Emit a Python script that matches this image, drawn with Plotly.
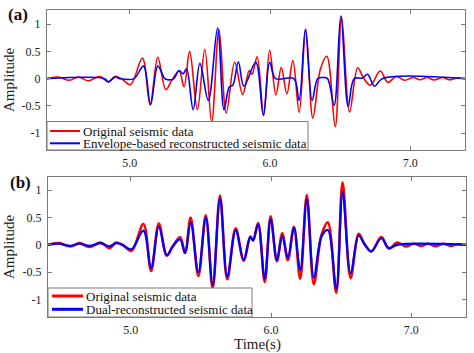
import plotly.graph_objects as go

W, H = 474, 353

# ---------------- data ----------------
orig_t = [4.41, 4.488, 4.57, 4.635, 4.705, 4.786, 4.848, 4.895, 4.94, 5.005, 5.09, 5.145, 5.2, 5.257,
          5.3, 5.352, 5.387, 5.427, 5.482, 5.535, 5.584, 5.636, 5.688, 5.748, 5.805, 5.852, 5.872,
          5.908, 5.955, 5.997, 6.042, 6.08, 6.12, 6.163, 6.208, 6.255, 6.305, 6.36, 6.405, 6.465,
          6.51, 6.567, 6.625, 6.665, 6.715, 6.786, 6.84, 6.9, 6.96, 7.02, 7.07, 7.12, 7.17, 7.23,
          7.28, 7.33, 7.39]
orig_a = [0.0, 0.03, -0.03, 0.03, -0.04, 0.04, -0.06, 0.04, 0.0, -0.11, 0.38, -0.48, 0.39, -0.2,
          -0.03, 0.14, -0.15, 0.5, -0.57, 0.54, -0.8, 0.9, -0.63, 0.3, -0.29, 0.15, 0.08,
          0.4, -0.68, 0.52, -0.3, 0.21, -0.28, 0.33, -0.62, 0.91, -0.72, 0.18, 0.41, -0.88,
          1.14, -0.61, 0.2, 0.02, -0.12, 0.14, -0.07, 0.04, -0.03, 0.02, -0.02, 0.02, -0.025, 0.02,
          -0.02, 0.01, 0.0]

env_t = [4.41, 4.82, 4.848, 4.895, 4.93, 5.03, 5.098, 5.148, 5.2, 5.25, 5.27, 5.31, 5.352, 5.38,
         5.405, 5.452, 5.5, 5.56, 5.626, 5.672, 5.71, 5.735, 5.774, 5.814, 5.898, 5.952, 5.998,
         6.04, 6.17, 6.207, 6.252, 6.3, 6.34, 6.38, 6.41, 6.457, 6.505, 6.557, 6.6, 6.66, 6.695,
         6.745, 6.8, 7.39]
env_a = [0.0, 0.0, -0.06, 0.03, 0.0, 0.0, 0.23, -0.48, 0.23, 0.0, -0.02, -0.01, 0.15, 0.09,
         0.18, -0.57, 0.28, -0.4, 0.93, -0.57, -0.15, -0.12, 0.31, -0.14, 0.3, -0.67, 0.3,
         0.0, 0.0, -0.4, 0.9, -0.4, 0.0, 0.02, 0.0, -0.49, 1.15, -0.51, 0.0, 0.01, 0.08,
         -0.14, 0.0, 0.0]

dual_t = [4.41, 4.488, 4.57, 4.635, 4.705, 4.786, 4.848, 4.895, 4.94, 5.005, 5.09, 5.145, 5.2, 5.257,
          5.3, 5.352, 5.387, 5.427, 5.482, 5.535, 5.584, 5.636, 5.688, 5.748, 5.805, 5.852, 5.872,
          5.908, 5.955, 5.997, 6.042, 6.08, 6.12, 6.163, 6.208, 6.255, 6.305, 6.36, 6.405, 6.465,
          6.51, 6.567, 6.625, 6.665, 6.715, 6.786, 6.84, 6.9, 7.39]
dual_a = [0.0, 0.02, -0.02, 0.02, -0.02, 0.03, -0.03, 0.03, 0.0, -0.08, 0.26, -0.42, 0.33, -0.19,
          -0.02, 0.1, -0.15, 0.41, -0.5, 0.5, -0.74, 0.85, -0.58, 0.27, -0.28, 0.14, 0.08,
          0.38, -0.62, 0.47, -0.28, 0.16, -0.24, 0.32, -0.47, 0.83, -0.6, 0.15, 0.27, -0.8,
          0.97, -0.52, 0.17, 0.02, -0.12, 0.12, -0.06, 0.0, 0.0]

names_a = ["Original seismic data", "Envelope-based reconstructed seismic data"]
names_b = ["Original seismic data", "Dual-reconstructed seismic data"]
x_ticks = [5.0, 6.0, 7.0]
x_ticktext = ["5.0", "6.0", "7.0"]
y_ticks = [1, 0.5, 0, -0.5, -1]
y_ticktext = ["1", "0.5", "0", "-0.5", "-1"]

RED = "#ff0000"
BLUE = "#0000ff"
FONT = "Liberation Serif"
FRAME = "#7a7a7a"

def px(x):
    return x / W

def py(y):
    return 1 - y / H

fig = go.Figure()
fig.add_trace(go.Scatter(x=orig_t, y=orig_a, mode="lines", line=dict(color=RED, width=1.6, shape="spline", smoothing=1.0),
                         xaxis="x", yaxis="y", showlegend=False, name=names_a[0]))
fig.add_trace(go.Scatter(x=env_t, y=env_a, mode="lines", line=dict(color=BLUE, width=1.6, shape="spline", smoothing=1.0),
                         xaxis="x", yaxis="y", showlegend=False, name=names_a[1]))
fig.add_trace(go.Scatter(x=orig_t, y=orig_a, mode="lines", line=dict(color=RED, width=2.6, shape="spline", smoothing=1.0),
                         xaxis="x2", yaxis="y2", showlegend=False, name=names_b[0]))
fig.add_trace(go.Scatter(x=dual_t, y=dual_a, mode="lines", line=dict(color=BLUE, width=2.2, shape="spline", smoothing=1.0),
                         xaxis="x2", yaxis="y2", showlegend=False, name=names_b[1]))

axis_common = dict(showgrid=False, zeroline=False, showline=True, linecolor=FRAME, linewidth=1,
                   mirror="allticks", ticks="inside", ticklen=4, tickcolor=FRAME,
                   tickfont=dict(family=FONT, size=12, color="#222"))
xa = dict(ticklabelstandoff=2, **axis_common)
ya = dict(ticklabelstandoff=3, **axis_common)

fig.update_layout(
    width=W, height=H, margin=dict(l=0, r=0, t=0, b=0),
    paper_bgcolor="white", plot_bgcolor="white",
    xaxis=dict(domain=[px(47), px(465)], range=[4.41, 7.39], anchor="y",
               tickvals=x_ticks, ticktext=x_ticktext, **xa),
    yaxis=dict(domain=[py(150), py(10)], range=[-1.31, 1.26], anchor="x",
               tickvals=y_ticks, ticktext=y_ticktext, **ya),
    xaxis2=dict(domain=[px(48), px(466)], range=[4.41, 7.39], anchor="y2",
                tickvals=x_ticks, ticktext=x_ticktext, **xa),
    yaxis2=dict(domain=[py(317), py(177)], range=[-1.32, 1.24], anchor="x2",
                tickvals=y_ticks, ticktext=y_ticktext, **ya),
)

shapes = []
annotations = []

def legend(x0, x1, y0, y1, rows, lw, line_x0, line_x1, text_x, names, colors):
    shapes.append(dict(type="rect", xref="paper", yref="paper", x0=px(x0), x1=px(x1), y0=py(y1), y1=py(y0),
                       line=dict(color=FRAME, width=1), fillcolor="white", layer="above"))
    for ry, nm, c in zip(rows, names, colors):
        shapes.append(dict(type="line", xref="paper", yref="paper", x0=px(line_x0), x1=px(line_x1),
                           y0=py(ry), y1=py(ry), line=dict(color=c, width=lw), layer="above"))
        annotations.append(dict(xref="paper", yref="paper", x=px(text_x), y=py(ry), text=nm, showarrow=False,
                                xanchor="left", yanchor="middle", font=dict(family=FONT, size=13, color="#111")))

legend(47, 308, 121.5, 150, [131, 143.3], 2, 50, 80, 81, names_a, [RED, BLUE])
legend(48, 252, 288, 317, [296, 309.3], 3, 52, 83, 84, names_b, [RED, BLUE])

annotations.append(dict(xref="paper", yref="paper", x=px(6), y=py(14), text="<b>(a)</b>", showarrow=False,
                        xanchor="left", yanchor="middle", font=dict(family=FONT, size=17, color="#111")))
annotations.append(dict(xref="paper", yref="paper", x=px(8), y=py(182), text="<b>(b)</b>", showarrow=False,
                        xanchor="left", yanchor="middle", font=dict(family=FONT, size=17, color="#111")))
annotations.append(dict(xref="paper", yref="paper", x=px(9), y=py(80), text="Amplitude", showarrow=False,
                        textangle=-90, xanchor="center", yanchor="middle", font=dict(family=FONT, size=15, color="#222")))
annotations.append(dict(xref="paper", yref="paper", x=px(9), y=py(247), text="Amplitude", showarrow=False,
                        textangle=-90, xanchor="center", yanchor="middle", font=dict(family=FONT, size=15, color="#222")))
annotations.append(dict(xref="paper", yref="paper", x=px(257), y=py(344), text="Time(s)", showarrow=False,
                        xanchor="center", yanchor="middle", font=dict(family=FONT, size=15, color="#222")))

fig.update_layout(shapes=shapes, annotations=annotations)
fig.write_html("out.html")
